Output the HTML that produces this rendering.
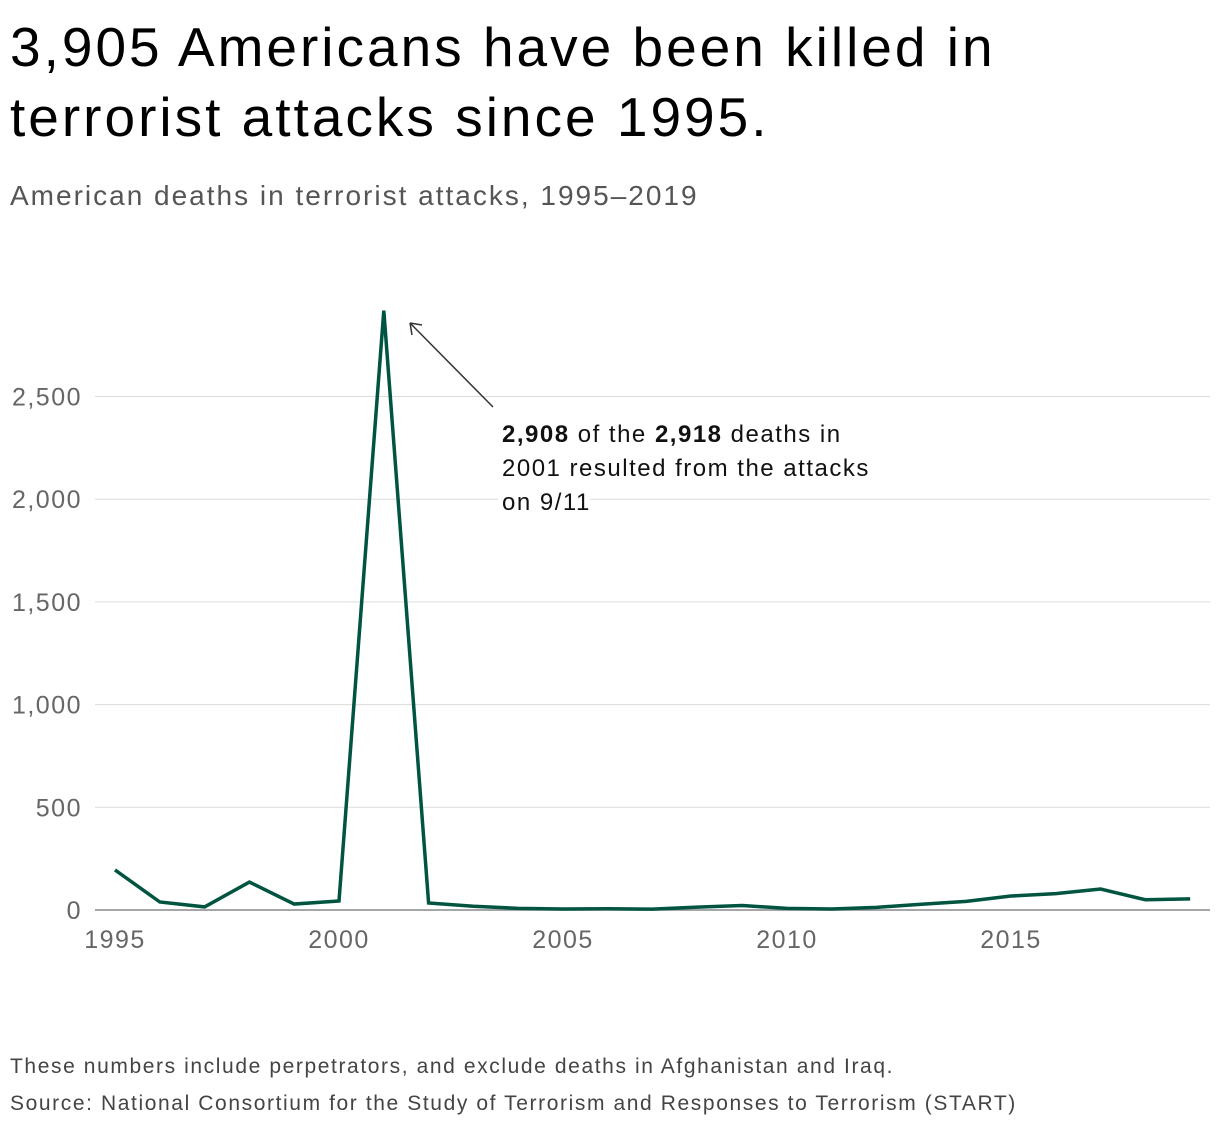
<!DOCTYPE html>
<html><head><meta charset="utf-8"><style>
body{margin:0;background:#fff;width:1220px;height:1132px;overflow:hidden;font-family:"Liberation Sans",sans-serif;}
h1{position:absolute;left:10px;top:12px;margin:0;font-size:55px;line-height:70px;font-weight:normal;color:#000;letter-spacing:3px;}
.sub{position:absolute;left:10px;top:180px;font-size:28px;color:#555;letter-spacing:2px;}
.note{position:absolute;left:10px;font-size:21px;color:#444;letter-spacing:1.6px;}
svg{position:absolute;left:0;top:0;}
</style></head><body>
<h1>3,905 Americans have been killed in<br>terrorist attacks since 1995.</h1>
<div class="sub">American deaths in terrorist attacks, 1995–2019</div>
<svg id="chart" width="1220" height="1132"></svg>
<div class="note" style="top:1055px">These numbers include perpetrators, and exclude deaths in Afghanistan and Iraq.</div>
<div class="note" style="top:1092px">Source: National Consortium for the Study of Terrorism and Responses to Terrorism (START)</div>
<script>
const years=[1995,1996,1997,1998,1999,2000,2001,2002,2003,2004,2005,2006,2007,2008,2009,2010,2011,2012,2013,2014,2015,2016,2017,2018,2019];
const deaths=[195,39,15,136,29,44,2918,34,18,8,5,6,4,14,22,8,5,13,28,42,68,80,102,50,54];
const yTicks=[0,500,1000,1500,2000,2500];
const yTickLabels=["0","500","1,000","1,500","2,000","2,500"];
const xTicks=[1995,2000,2005,2010,2015];
const NS="http://www.w3.org/2000/svg";
const svg=document.getElementById('chart');
const x=v=>115+(v-1995)*44.8;
const y=v=>910-v*0.2054;
function mk(t,a){const e=document.createElementNS(NS,t);for(const k in a)e.setAttribute(k,a[k]);svg.appendChild(e);return e;}
yTicks.forEach((t,i)=>{
  if(t>0){const g=mk('line',{x1:95,x2:1210,y1:y(t),y2:y(t),stroke:'#dcdcd6','stroke-width':1});
  
  }
  const l=mk('text',{x:82,y:y(t)+9,'text-anchor':'end','font-size':25,fill:'#666','letter-spacing':1.5,'font-family':'Liberation Sans, sans-serif'});
  l.textContent=yTickLabels[i];
  
  
});
const ax=mk('line',{x1:95,x2:1210,y1:910,y2:910,stroke:'#888','stroke-width':1.5});


xTicks.forEach(t=>{
  const l=mk('text',{x:x(t),y:948,'text-anchor':'middle','font-size':25,fill:'#666','letter-spacing':1.5,'font-family':'Liberation Sans, sans-serif'});
  l.textContent=t;
  
  
});
const p=mk('polyline',{points:years.map((yr,i)=>x(yr)+','+y(deaths[i])).join(' '),fill:'none',stroke:'#005440','stroke-width':3.5,'stroke-linejoin':'miter'});


const ar=mk('path',{d:'M493,407 L410,323 M410,323 L412,335 M410,323 L422,325',stroke:'#333','stroke-width':1.5,fill:'none'});


const bg=mk('rect',{x:498,y:486,width:92,height:30,fill:'#fff'});


const lines=[[['2,908','700'],[' of the ','400'],['2,918','700'],['  deaths  in','400']],[['2001 resulted from the attacks','400']],[['on 9/11','400']]];
lines.forEach((ln,i)=>{
  const t=mk('text',{x:502,y:442+i*34,'font-size':24,fill:'#111','letter-spacing':1.5,'font-family':'Liberation Sans, sans-serif','xml:space':'preserve'});
  
  
  ln.forEach(s=>{const sp=document.createElementNS(NS,'tspan');sp.setAttribute('font-weight',s[1]);sp.textContent=s[0];t.appendChild(sp);});
});
</script>
</body></html>
